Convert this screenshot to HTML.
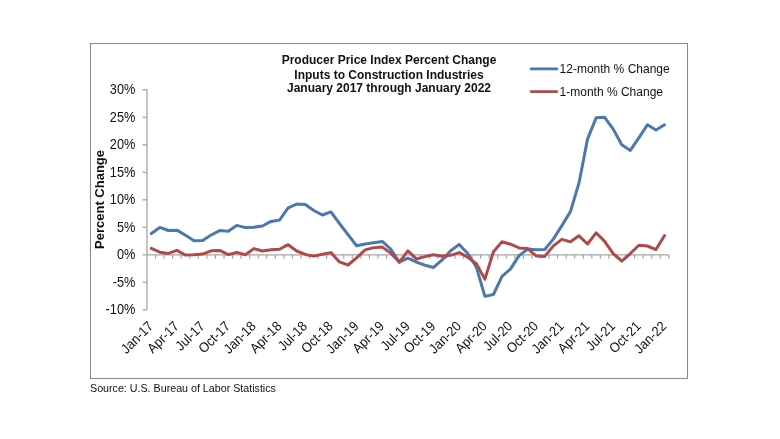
<!DOCTYPE html>
<html><head><meta charset="utf-8"><style>
html,body{margin:0;padding:0;background:#fff;}
body{width:780px;height:439px;overflow:hidden;}
svg{display:block;will-change:transform;}
text{font-family:"Liberation Sans",sans-serif;fill:#111;}
.tk{font-size:13.8px;}
.tt{font-size:12px;font-weight:bold;}
.lg{font-size:12px;}
.yt{font-size:13px;font-weight:bold;}
.src{font-size:10.7px;}
</style></head><body>
<svg width="780" height="439" viewBox="0 0 780 439">
<rect x="90.5" y="43.5" width="597" height="335" fill="none" stroke="#8c8c8c" stroke-width="1.1"/>
<line x1="147.0" y1="89.80000000000001" x2="147.0" y2="309.8" stroke="#A6A6A6" stroke-width="1.3"/>
<line x1="142.5" y1="309.80" x2="147.0" y2="309.80" stroke="#A6A6A6" stroke-width="1.3"/>
<text transform="translate(135.3,314.10) scale(0.923,1)" text-anchor="end" class="tk">-10%</text>
<line x1="142.5" y1="282.30" x2="147.0" y2="282.30" stroke="#A6A6A6" stroke-width="1.3"/>
<text transform="translate(135.3,286.60) scale(0.923,1)" text-anchor="end" class="tk">-5%</text>
<line x1="142.5" y1="254.80" x2="147.0" y2="254.80" stroke="#A6A6A6" stroke-width="1.3"/>
<text transform="translate(135.3,259.10) scale(0.923,1)" text-anchor="end" class="tk">0%</text>
<line x1="142.5" y1="227.30" x2="147.0" y2="227.30" stroke="#A6A6A6" stroke-width="1.3"/>
<text transform="translate(135.3,231.60) scale(0.923,1)" text-anchor="end" class="tk">5%</text>
<line x1="142.5" y1="199.80" x2="147.0" y2="199.80" stroke="#A6A6A6" stroke-width="1.3"/>
<text transform="translate(135.3,204.10) scale(0.923,1)" text-anchor="end" class="tk">10%</text>
<line x1="142.5" y1="172.30" x2="147.0" y2="172.30" stroke="#A6A6A6" stroke-width="1.3"/>
<text transform="translate(135.3,176.60) scale(0.923,1)" text-anchor="end" class="tk">15%</text>
<line x1="142.5" y1="144.80" x2="147.0" y2="144.80" stroke="#A6A6A6" stroke-width="1.3"/>
<text transform="translate(135.3,149.10) scale(0.923,1)" text-anchor="end" class="tk">20%</text>
<line x1="142.5" y1="117.30" x2="147.0" y2="117.30" stroke="#A6A6A6" stroke-width="1.3"/>
<text transform="translate(135.3,121.60) scale(0.923,1)" text-anchor="end" class="tk">25%</text>
<line x1="142.5" y1="89.80" x2="147.0" y2="89.80" stroke="#A6A6A6" stroke-width="1.3"/>
<text transform="translate(135.3,94.10) scale(0.923,1)" text-anchor="end" class="tk">30%</text>
<line x1="147.0" y1="254.8" x2="668.8" y2="254.8" stroke="#A6A6A6" stroke-width="1.3"/>
<line x1="155.55" y1="254.8" x2="155.55" y2="258.8" stroke="#A6A6A6" stroke-width="1.2"/>
<line x1="164.11" y1="254.8" x2="164.11" y2="258.8" stroke="#A6A6A6" stroke-width="1.2"/>
<line x1="172.66" y1="254.8" x2="172.66" y2="258.8" stroke="#A6A6A6" stroke-width="1.2"/>
<line x1="181.22" y1="254.8" x2="181.22" y2="258.8" stroke="#A6A6A6" stroke-width="1.2"/>
<line x1="189.77" y1="254.8" x2="189.77" y2="258.8" stroke="#A6A6A6" stroke-width="1.2"/>
<line x1="198.32" y1="254.8" x2="198.32" y2="258.8" stroke="#A6A6A6" stroke-width="1.2"/>
<line x1="206.88" y1="254.8" x2="206.88" y2="258.8" stroke="#A6A6A6" stroke-width="1.2"/>
<line x1="215.43" y1="254.8" x2="215.43" y2="258.8" stroke="#A6A6A6" stroke-width="1.2"/>
<line x1="223.99" y1="254.8" x2="223.99" y2="258.8" stroke="#A6A6A6" stroke-width="1.2"/>
<line x1="232.54" y1="254.8" x2="232.54" y2="258.8" stroke="#A6A6A6" stroke-width="1.2"/>
<line x1="241.10" y1="254.8" x2="241.10" y2="258.8" stroke="#A6A6A6" stroke-width="1.2"/>
<line x1="249.65" y1="254.8" x2="249.65" y2="258.8" stroke="#A6A6A6" stroke-width="1.2"/>
<line x1="258.20" y1="254.8" x2="258.20" y2="258.8" stroke="#A6A6A6" stroke-width="1.2"/>
<line x1="266.76" y1="254.8" x2="266.76" y2="258.8" stroke="#A6A6A6" stroke-width="1.2"/>
<line x1="275.31" y1="254.8" x2="275.31" y2="258.8" stroke="#A6A6A6" stroke-width="1.2"/>
<line x1="283.87" y1="254.8" x2="283.87" y2="258.8" stroke="#A6A6A6" stroke-width="1.2"/>
<line x1="292.42" y1="254.8" x2="292.42" y2="258.8" stroke="#A6A6A6" stroke-width="1.2"/>
<line x1="300.97" y1="254.8" x2="300.97" y2="258.8" stroke="#A6A6A6" stroke-width="1.2"/>
<line x1="309.53" y1="254.8" x2="309.53" y2="258.8" stroke="#A6A6A6" stroke-width="1.2"/>
<line x1="318.08" y1="254.8" x2="318.08" y2="258.8" stroke="#A6A6A6" stroke-width="1.2"/>
<line x1="326.64" y1="254.8" x2="326.64" y2="258.8" stroke="#A6A6A6" stroke-width="1.2"/>
<line x1="335.19" y1="254.8" x2="335.19" y2="258.8" stroke="#A6A6A6" stroke-width="1.2"/>
<line x1="343.74" y1="254.8" x2="343.74" y2="258.8" stroke="#A6A6A6" stroke-width="1.2"/>
<line x1="352.30" y1="254.8" x2="352.30" y2="258.8" stroke="#A6A6A6" stroke-width="1.2"/>
<line x1="360.85" y1="254.8" x2="360.85" y2="258.8" stroke="#A6A6A6" stroke-width="1.2"/>
<line x1="369.41" y1="254.8" x2="369.41" y2="258.8" stroke="#A6A6A6" stroke-width="1.2"/>
<line x1="377.96" y1="254.8" x2="377.96" y2="258.8" stroke="#A6A6A6" stroke-width="1.2"/>
<line x1="386.51" y1="254.8" x2="386.51" y2="258.8" stroke="#A6A6A6" stroke-width="1.2"/>
<line x1="395.07" y1="254.8" x2="395.07" y2="258.8" stroke="#A6A6A6" stroke-width="1.2"/>
<line x1="403.62" y1="254.8" x2="403.62" y2="258.8" stroke="#A6A6A6" stroke-width="1.2"/>
<line x1="412.18" y1="254.8" x2="412.18" y2="258.8" stroke="#A6A6A6" stroke-width="1.2"/>
<line x1="420.73" y1="254.8" x2="420.73" y2="258.8" stroke="#A6A6A6" stroke-width="1.2"/>
<line x1="429.29" y1="254.8" x2="429.29" y2="258.8" stroke="#A6A6A6" stroke-width="1.2"/>
<line x1="437.84" y1="254.8" x2="437.84" y2="258.8" stroke="#A6A6A6" stroke-width="1.2"/>
<line x1="446.39" y1="254.8" x2="446.39" y2="258.8" stroke="#A6A6A6" stroke-width="1.2"/>
<line x1="454.95" y1="254.8" x2="454.95" y2="258.8" stroke="#A6A6A6" stroke-width="1.2"/>
<line x1="463.50" y1="254.8" x2="463.50" y2="258.8" stroke="#A6A6A6" stroke-width="1.2"/>
<line x1="472.06" y1="254.8" x2="472.06" y2="258.8" stroke="#A6A6A6" stroke-width="1.2"/>
<line x1="480.61" y1="254.8" x2="480.61" y2="258.8" stroke="#A6A6A6" stroke-width="1.2"/>
<line x1="489.16" y1="254.8" x2="489.16" y2="258.8" stroke="#A6A6A6" stroke-width="1.2"/>
<line x1="497.72" y1="254.8" x2="497.72" y2="258.8" stroke="#A6A6A6" stroke-width="1.2"/>
<line x1="506.27" y1="254.8" x2="506.27" y2="258.8" stroke="#A6A6A6" stroke-width="1.2"/>
<line x1="514.83" y1="254.8" x2="514.83" y2="258.8" stroke="#A6A6A6" stroke-width="1.2"/>
<line x1="523.38" y1="254.8" x2="523.38" y2="258.8" stroke="#A6A6A6" stroke-width="1.2"/>
<line x1="531.93" y1="254.8" x2="531.93" y2="258.8" stroke="#A6A6A6" stroke-width="1.2"/>
<line x1="540.49" y1="254.8" x2="540.49" y2="258.8" stroke="#A6A6A6" stroke-width="1.2"/>
<line x1="549.04" y1="254.8" x2="549.04" y2="258.8" stroke="#A6A6A6" stroke-width="1.2"/>
<line x1="557.60" y1="254.8" x2="557.60" y2="258.8" stroke="#A6A6A6" stroke-width="1.2"/>
<line x1="566.15" y1="254.8" x2="566.15" y2="258.8" stroke="#A6A6A6" stroke-width="1.2"/>
<line x1="574.70" y1="254.8" x2="574.70" y2="258.8" stroke="#A6A6A6" stroke-width="1.2"/>
<line x1="583.26" y1="254.8" x2="583.26" y2="258.8" stroke="#A6A6A6" stroke-width="1.2"/>
<line x1="591.81" y1="254.8" x2="591.81" y2="258.8" stroke="#A6A6A6" stroke-width="1.2"/>
<line x1="600.37" y1="254.8" x2="600.37" y2="258.8" stroke="#A6A6A6" stroke-width="1.2"/>
<line x1="608.92" y1="254.8" x2="608.92" y2="258.8" stroke="#A6A6A6" stroke-width="1.2"/>
<line x1="617.48" y1="254.8" x2="617.48" y2="258.8" stroke="#A6A6A6" stroke-width="1.2"/>
<line x1="626.03" y1="254.8" x2="626.03" y2="258.8" stroke="#A6A6A6" stroke-width="1.2"/>
<line x1="634.58" y1="254.8" x2="634.58" y2="258.8" stroke="#A6A6A6" stroke-width="1.2"/>
<line x1="643.14" y1="254.8" x2="643.14" y2="258.8" stroke="#A6A6A6" stroke-width="1.2"/>
<line x1="651.69" y1="254.8" x2="651.69" y2="258.8" stroke="#A6A6A6" stroke-width="1.2"/>
<line x1="660.25" y1="254.8" x2="660.25" y2="258.8" stroke="#A6A6A6" stroke-width="1.2"/>
<line x1="668.80" y1="254.8" x2="668.80" y2="258.8" stroke="#A6A6A6" stroke-width="1.2"/>
<text transform="translate(154.08,327.10) rotate(-45) scale(0.923,1)" text-anchor="end" class="tk">Jan-17</text>
<text transform="translate(179.74,327.10) rotate(-45) scale(0.923,1)" text-anchor="end" class="tk">Apr-17</text>
<text transform="translate(205.40,327.10) rotate(-45) scale(0.923,1)" text-anchor="end" class="tk">Jul-17</text>
<text transform="translate(231.06,327.10) rotate(-45) scale(0.923,1)" text-anchor="end" class="tk">Oct-17</text>
<text transform="translate(256.73,327.10) rotate(-45) scale(0.923,1)" text-anchor="end" class="tk">Jan-18</text>
<text transform="translate(282.39,327.10) rotate(-45) scale(0.923,1)" text-anchor="end" class="tk">Apr-18</text>
<text transform="translate(308.05,327.10) rotate(-45) scale(0.923,1)" text-anchor="end" class="tk">Jul-18</text>
<text transform="translate(333.71,327.10) rotate(-45) scale(0.923,1)" text-anchor="end" class="tk">Oct-18</text>
<text transform="translate(359.38,327.10) rotate(-45) scale(0.923,1)" text-anchor="end" class="tk">Jan-19</text>
<text transform="translate(385.04,327.10) rotate(-45) scale(0.923,1)" text-anchor="end" class="tk">Apr-19</text>
<text transform="translate(410.70,327.10) rotate(-45) scale(0.923,1)" text-anchor="end" class="tk">Jul-19</text>
<text transform="translate(436.36,327.10) rotate(-45) scale(0.923,1)" text-anchor="end" class="tk">Oct-19</text>
<text transform="translate(462.02,327.10) rotate(-45) scale(0.923,1)" text-anchor="end" class="tk">Jan-20</text>
<text transform="translate(487.69,327.10) rotate(-45) scale(0.923,1)" text-anchor="end" class="tk">Apr-20</text>
<text transform="translate(513.35,327.10) rotate(-45) scale(0.923,1)" text-anchor="end" class="tk">Jul-20</text>
<text transform="translate(539.01,327.10) rotate(-45) scale(0.923,1)" text-anchor="end" class="tk">Oct-20</text>
<text transform="translate(564.67,327.10) rotate(-45) scale(0.923,1)" text-anchor="end" class="tk">Jan-21</text>
<text transform="translate(590.34,327.10) rotate(-45) scale(0.923,1)" text-anchor="end" class="tk">Apr-21</text>
<text transform="translate(616.00,327.10) rotate(-45) scale(0.923,1)" text-anchor="end" class="tk">Jul-21</text>
<text transform="translate(641.66,327.10) rotate(-45) scale(0.923,1)" text-anchor="end" class="tk">Oct-21</text>
<text transform="translate(667.32,327.10) rotate(-45) scale(0.923,1)" text-anchor="end" class="tk">Jan-22</text>
<polyline points="151.28,233.57 159.83,227.41 168.39,230.49 176.94,230.16 185.49,235.28 194.05,240.72 202.60,240.50 211.16,235.00 219.71,230.60 228.26,231.31 236.82,225.38 245.37,227.58 253.93,227.14 262.48,225.98 271.03,221.42 279.59,219.99 288.14,207.78 296.70,204.09 305.25,204.48 313.80,210.53 322.36,214.98 330.91,211.90 339.47,223.50 348.02,234.62 356.58,245.73 365.13,244.02 373.68,242.81 382.24,241.49 390.79,249.08 399.35,262.12 407.90,258.10 416.45,262.12 425.01,265.25 433.56,267.45 442.12,259.92 450.67,250.79 459.22,244.41 467.78,253.48 476.33,267.18 484.89,296.38 493.44,294.51 502.00,276.31 510.55,268.82 519.10,255.62 527.66,249.08 536.21,249.85 544.77,249.52 553.32,239.12 561.87,225.65 570.43,211.62 578.98,183.03 587.54,139.08 596.09,117.85 604.64,117.30 613.20,129.12 621.75,144.80 630.31,150.41 638.86,137.93 647.41,124.78 655.97,129.95 664.52,124.78" fill="none" stroke="#4B78AD" stroke-width="3" stroke-linejoin="round" stroke-linecap="round"/>
<polyline points="151.28,248.31 159.83,252.22 168.39,253.43 176.94,250.40 185.49,255.08 194.05,254.80 202.60,254.09 211.16,250.79 219.71,250.40 228.26,254.58 236.82,252.33 245.37,254.80 253.93,248.59 262.48,251.01 271.03,249.80 279.59,249.30 288.14,244.68 296.70,251.01 305.25,254.42 313.80,256.12 322.36,254.25 330.91,252.60 339.47,261.95 348.02,264.98 356.58,257.82 365.13,249.85 373.68,247.65 382.24,247.10 390.79,253.15 399.35,262.12 407.90,250.79 416.45,258.93 425.01,256.62 433.56,254.80 442.12,256.29 450.67,255.35 459.22,252.60 467.78,257.22 476.33,263.60 484.89,279.11 493.44,251.72 502.00,241.71 510.55,244.24 519.10,247.93 527.66,248.59 536.21,255.90 544.77,256.40 553.32,245.89 561.87,239.40 570.43,241.82 578.98,235.83 587.54,244.02 596.09,232.80 604.64,241.33 613.20,253.54 621.75,261.12 630.31,253.54 638.86,245.29 647.41,246.00 655.97,249.52 664.52,235.55" fill="none" stroke="#AD4B4C" stroke-width="3" stroke-linejoin="round" stroke-linecap="round"/>
<text x="389" y="64.0" text-anchor="middle" class="tt">Producer Price Index Percent Change</text>
<text x="389" y="78.5" text-anchor="middle" class="tt">Inputs to Construction Industries</text>
<text x="389" y="91.9" text-anchor="middle" class="tt">January 2017 through January 2022</text>
<line x1="531.2" y1="68.9" x2="556.8" y2="68.9" stroke="#4B78AD" stroke-width="2.8" stroke-linecap="round"/>
<text x="559.6" y="72.6" class="lg">12-month % Change</text>
<line x1="531.2" y1="91.6" x2="556.8" y2="91.6" stroke="#AD4B4C" stroke-width="2.8" stroke-linecap="round"/>
<text x="559.6" y="95.7" class="lg">1-month % Change</text>
<text transform="translate(103.8,199.5) rotate(-90)" text-anchor="middle" class="yt">Percent Change</text>
<text x="90" y="391.8" class="src">Source: U.S. Bureau of Labor Statistics</text>
</svg>
</body></html>
